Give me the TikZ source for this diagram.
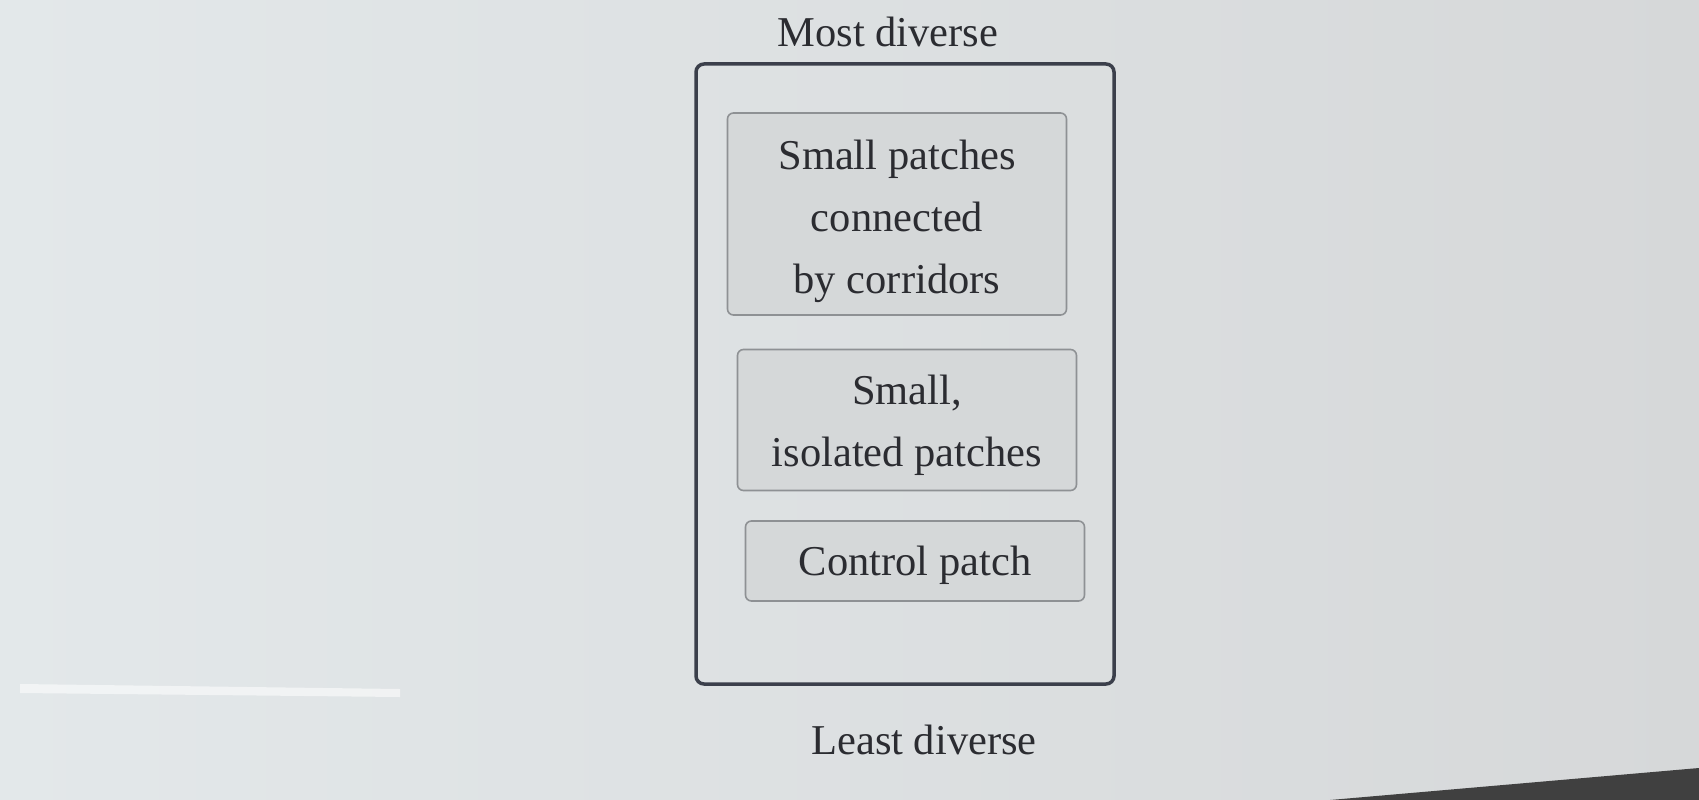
\documentclass[tikz,border=0pt]{standalone}
\usepackage{fontspec}
\setmainfont{Liberation Serif}
\definecolor{bgleft}{HTML}{E3E8EA}
\definecolor{bgright}{HTML}{D6D8D9}
\definecolor{frame}{HTML}{3B3F4B}
\definecolor{patchfill}{HTML}{D5D8D9}
\definecolor{patchline}{HTML}{8E9194}
\definecolor{ink}{HTML}{2B2C31}
\begin{document}
\begin{tikzpicture}[x=1pt,y=-1pt,
  lbl/.style={text=ink,font=\fontsize{42.5}{62}\selectfont,inner sep=0pt,align=center},
  outerbox/.style={draw=frame,line width=3.5pt,rounded corners=8pt,minimum width=418pt,minimum height=620pt,inner sep=0pt},
  patchbox/.style={draw=patchline,line width=1.6pt,fill=patchfill,rounded corners=6pt,inner sep=0pt,minimum width=339pt}]
\useasboundingbox (0,0) rectangle (1699,800);
\shade[left color=bgleft,right color=bgright] (0,0) rectangle (1699,800);
\fill[white,opacity=0.55] (20,684) -- (400,689) -- (400,697) -- (20,693) -- cycle;
\fill[black!75] (1330,800) -- (1699,768) -- (1699,800) -- cycle;
\node[outerbox] (frame) at (905,374) {};
\node[lbl] (most) at (888,32) {Most diverse};
\node[lbl] (least) at (924,740) {Least diverse};
\node[patchbox,minimum height=202pt] (corr) at (897,214) {};
\node[patchbox,minimum height=141pt] (iso) at (907,420) {};
\node[patchbox,minimum height=80pt] (ctrl) at (915,561) {};
\node[lbl] (corrtxt) at ([yshift=-7pt]corr.center) {Small patches\\connected\\by corridors};
\node[lbl] (isotxt) at ([yshift=-5pt]iso.center) {Small,\\isolated patches};
\node[lbl] (ctrltxt) at ([yshift=-4.5pt]ctrl.center) {Control patch};
\end{tikzpicture}
\end{document}
